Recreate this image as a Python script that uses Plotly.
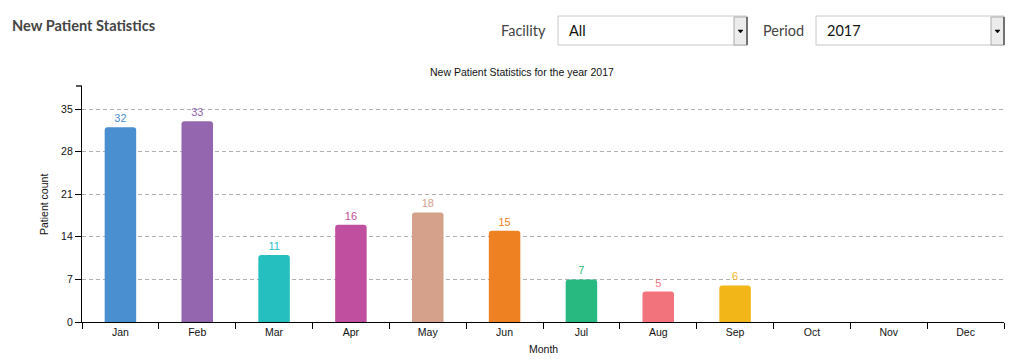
import plotly.graph_objects as go

months = ["Jan", "Feb", "Mar", "Apr", "May", "Jun", "Jul", "Aug", "Sep", "Oct", "Nov", "Dec"]
counts = [32, 33, 11, 16, 18, 15, 7, 5, 6, None, None, None]
labels = ["32", "33", "11", "16", "18", "15", "7", "5", "6", "", "", ""]
colors = ["#4A8FD0", "#9366AF", "#26BFBF", "#C04FA0", "#D6A18A", "#EE8222",
          "#28B980", "#F2737B", "#F3B619", "#999999", "#999999", "#999999"]
y_ticks = [0, 7, 14, 21, 28, 35]

W, H = 1019, 359
L, R, T, B = 82, 15, 86, 37
PW, PH = W - L - R, H - T - B


def px(x):
    return (x - L) / PW


def py(y):
    return (H - B - y) / PH


fig = go.Figure()
fig.add_trace(go.Bar(
    x=months, y=counts, text=labels, textposition="outside",
    textfont=dict(color=colors, size=11, family="Liberation Sans, Arial"),
    marker=dict(color=colors, cornerradius=3, line=dict(width=0)),
    width=0.41, cliponaxis=False, hoverinfo="x+y",
))

fig.update_layout(
    width=W, height=H, margin=dict(l=L, r=R, t=T, b=B),
    paper_bgcolor="white", plot_bgcolor="white", showlegend=False,
    font=dict(family="Liberation Sans, Arial", size=11, color="#111"),
    xaxis=dict(
        type="category", range=[-0.5, 11.5], showline=True, linecolor="#000",
        linewidth=1.3, ticks="outside", ticklen=6, tickcolor="#000",
        tickson="boundaries", showgrid=False, tickfont=dict(size=10.5, color="#111"),
        fixedrange=True,
    ),
    yaxis=dict(
        range=[0, 38.78], tickvals=y_ticks, showline=True, linecolor="#000",
        linewidth=1.3, ticks="outside", ticklen=6, tickcolor="#000",
        showgrid=True, gridcolor="#b0b0b0", griddash="4px,3px", gridwidth=1,
        zeroline=False, tickfont=dict(size=10.5, color="#111"), fixedrange=True,
    ),
)

shapes = [
    # top end tick of y axis
    dict(type="line", xref="paper", yref="paper", x0=px(76), x1=px(82), y0=1, y1=1,
         line=dict(color="#000", width=1.3)),
]
ann = [
    dict(text="<b>New Patient Statistics</b>", x=px(10), y=py(25), xanchor="left", yanchor="middle",
         font=dict(family="Lato", size=14.6, color="#444")),
    dict(text="Facility", x=px(548), y=py(31), xanchor="right", yanchor="middle",
         font=dict(family="Lato", size=14.5, color="#444")),
    dict(text="Period", x=px(806), y=py(31), xanchor="right", yanchor="middle",
         font=dict(family="Lato", size=14.5, color="#444")),
    dict(text="All", x=px(567), y=py(31), xanchor="left", yanchor="middle",
         font=dict(family="Lato", size=14.5, color="#111")),
    dict(text="2017", x=px(825), y=py(31), xanchor="left", yanchor="middle",
         font=dict(family="Lato", size=14.5, color="#111")),
    dict(text="New Patient Statistics for the year 2017", x=px(522), y=py(72),
         xanchor="center", yanchor="middle", font=dict(size=10.5, color="#111")),
    dict(text="Patient count", x=px(44), y=py(205), xanchor="center", yanchor="middle",
         textangle=-90, font=dict(size=10.5, color="#111")),
    dict(text="Month", x=px(543), y=py(349), xanchor="center", yanchor="middle",
         font=dict(size=10.5, color="#111")),
]

for (bx0, bx1) in [(558, 747), (816, 1004)]:
    shapes.append(dict(type="rect", xref="paper", yref="paper", x0=px(bx0), x1=px(bx1),
                       y0=py(45), y1=py(16), line=dict(color="#c8c8c8", width=1),
                       fillcolor="white", layer="below"))
    shapes.append(dict(type="rect", xref="paper", yref="paper", x0=px(bx1 - 13), x1=px(bx1),
                       y0=py(45), y1=py(17), line=dict(color="#aaaaaa", width=1),
                       fillcolor="#ececec"))
    shapes.append(dict(type="line", xref="paper", yref="paper", x0=px(bx1), x1=px(bx1),
                       y0=py(45), y1=py(17), line=dict(color="#555", width=1.5)))
    cx = bx1 - 6.5
    shapes.append(dict(type="path", xref="paper", yref="paper",
                       path=f"M {px(cx - 2.5)} {py(30)} L {px(cx + 2.5)} {py(30)} L {px(cx)} {py(33)} Z",
                       fillcolor="#000", line=dict(color="#000", width=0.5)))

for a in ann:
    a.update(xref="paper", yref="paper", showarrow=False)
fig.update_layout(shapes=shapes, annotations=ann)

fig.write_html("out.html", config={"displayModeBar": False},
               post_script="document.body.style.margin='0';document.body.style.overflow='hidden';")
